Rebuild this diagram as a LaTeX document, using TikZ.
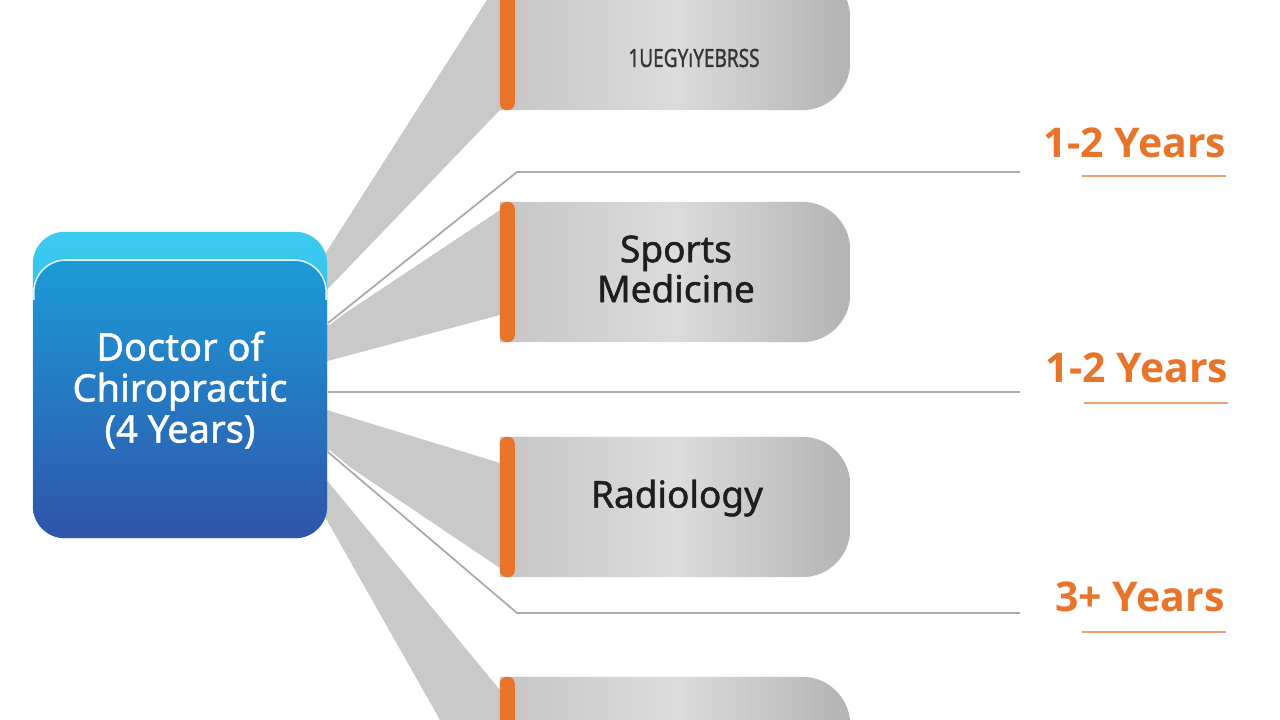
\documentclass[tikz,border=0pt]{standalone}
\usepackage{fontspec}
\setmainfont{Noto Sans}
\newfontfamily\medfont[FakeBold=1.3]{Noto Sans}
\newfontfamily\labfont{Open Sans}
\usetikzlibrary{calc}
\definecolor{wedgegray}{HTML}{C9C9C9}
\definecolor{linegray}{HTML}{ABABAB}
\definecolor{orangeA}{HTML}{E8742A}
\definecolor{orangeL}{HTML}{EFA06E}
\definecolor{tabtop}{HTML}{3CCAF0}
\definecolor{tabbot}{HTML}{1FA4DC}
\definecolor{fronttop}{HTML}{1C9BD7}
\definecolor{frontbot}{HTML}{3054AA}
\definecolor{boxL}{HTML}{C5C5C5}
\definecolor{boxM}{HTML}{DCDCDC}
\definecolor{boxR}{HTML}{B3B3B3}
\definecolor{darktext}{HTML}{1E1E1E}
\tikzset{
  boxframe/.style={rectangle, minimum width=350pt, minimum height=140pt, inner sep=0pt},
  wedge/.style={fill=wedgegray},
  halo/.style={white, line width=5pt},
  guide/.style={linegray, line width=1.8pt},
  yrs/.style={text=orangeA, font=\labfont\bfseries\fontsize{41}{44}\selectfont},
  uline/.style={orangeL, line width=2.2pt},
  boxtext/.style={text=darktext, align=center, font=\medfont\fontsize{37}{40}\selectfont},
  bar/.style={fill=orangeA, rounded corners=7pt},
}
\newcommand{\graybox}[1]{%
  \begin{scope}
    \clip (#1.north west) rectangle ([xshift=-60pt]#1.south east)
      [rounded corners=48pt] (#1.north west) rectangle (#1.south east);
    \shade[left color=boxL, right color=boxR, middle color=boxM] (#1.north west) rectangle (#1.south east);
  \end{scope}
  \fill[bar] (#1.north west) rectangle ([xshift=15pt]#1.south west);
}
\begin{document}
\begin{tikzpicture}[x=1pt,y=-1pt]
\useasboundingbox[fill=white] (0,0) rectangle (1280,720);
\begin{scope}
\clip (0,0) rectangle (1280,720);
% anchor nodes
\node[boxframe] (b1) at (675,40) {};
\node[boxframe] (b2) at (675,272) {};
\node[boxframe] (b3) at (675,507) {};
\node[boxframe] (b4) at (675,747) {};
\node[rectangle, minimum width=294pt, minimum height=306pt, inner sep=0pt] (doc) at (180,385) {};

% wedges
\fill[wedge] (320,262) -- (320,297) -- (b1.south west) -- ([yshift=-10pt]b1.north west) -- cycle;
\fill[wedge] (320,330) -- (320,363) -- (500,315) -- (500,210) -- cycle;
\fill[wedge] (320,408) -- (320,447) -- (500,568) -- (500,463) -- cycle;
\fill[wedge] (320,472) -- (320,508) -- (500,826) -- (500,690) -- cycle;

% guide lines
\coordinate (l1a) at (328,323); \coordinate (l1b) at (517,172); \coordinate (l1c) at (1020,172);
\coordinate (l2a) at (328,392); \coordinate (l2c) at (1020,392);
\coordinate (l3a) at (328,452); \coordinate (l3b) at (517,613); \coordinate (l3c) at (1020,613);
\draw[halo] (l1a) -- (l1b) -- (l1c);
\draw[halo] (l3a) -- (l3b) -- (l3c);
\draw[guide] (l1a) -- (l1b) -- (l1c);
\draw[guide] (l2a) -- (l2c);
\draw[guide] (l3a) -- (l3b) -- (l3c);

% gray boxes
\graybox{b1}
\graybox{b2}
\graybox{b3}
\graybox{b4}

\node[text=darktext!90, font=\medfont\fontsize{25}{26}\selectfont] (t1) at (694,58) {\scalebox{0.76}[1]{1UEGYıYEBRSS}};
\node[boxtext] (t2) at (676,269) {Sports\\Medicine};
\node[boxtext] (t3) at (677,498) {Radiology};

% blue box
\shade[top color=tabtop, bottom color=tabbot, rounded corners=32pt] (doc.north west) rectangle (doc.south east);
\shade[top color=fronttop, bottom color=frontbot, rounded corners=32pt] (33,260) rectangle (doc.south east);
\draw[white!85!cyan, line width=1.6pt, rounded corners=32pt] (33.8,300) -- (33.8,260) -- (326.2,260) -- (326.2,300);
\node[text=white, align=center, font=\medfont\fontsize{38}{41}\selectfont] (doctext) at (180,390) {Doctor of\\Chiropractic\\(4 Years)};

% year labels
\node[yrs] (y1) at (1135,143) {1-2 Years};
\node[yrs] (y2) at (1137,368) {1-2 Years};
\node[yrs] (y3) at (1140,597) {3+ Years};
\draw[uline] (1082,176) -- (1226,176);
\draw[uline] (1084,403) -- (1228,403);
\draw[uline] (1082,632) -- (1226,632);
\end{scope}
\end{tikzpicture}
\end{document}
